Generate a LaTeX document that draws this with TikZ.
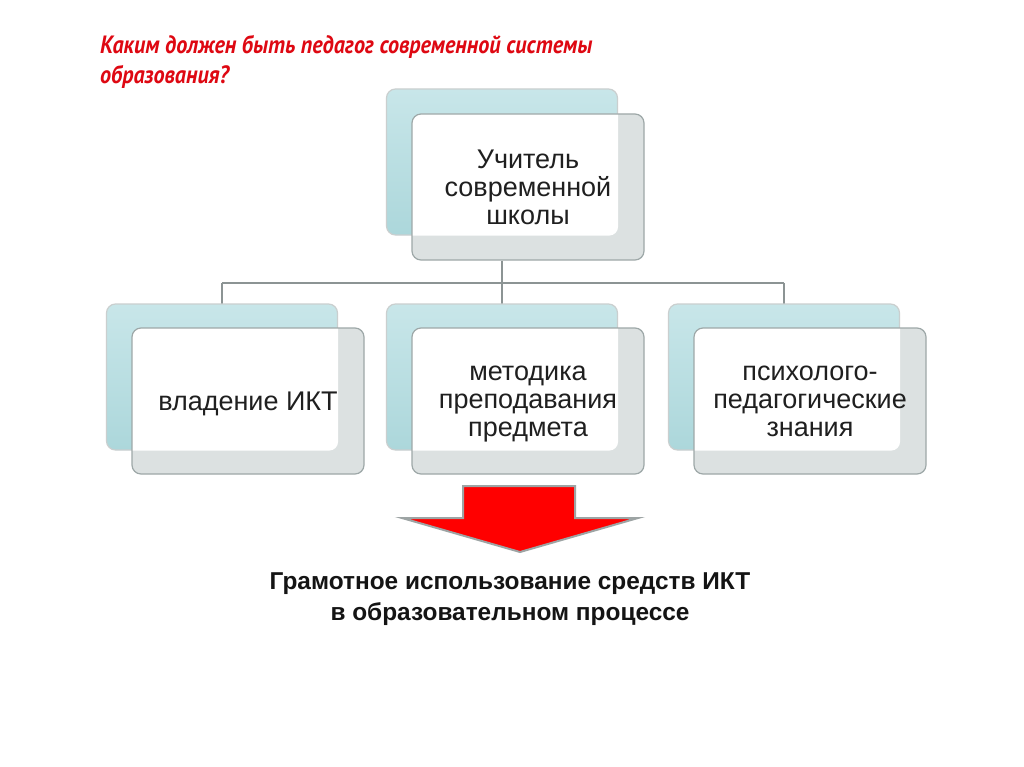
\documentclass[tikz,border=0pt]{standalone}
\usepackage{fontspec}
\setmainfont{Liberation Sans}
\newfontfamily\titlefont{PT Sans}
\definecolor{titlered}{RGB}{222,8,18}
\definecolor{tealtop}{RGB}{200,230,233}
\definecolor{tealbot}{RGB}{172,215,219}
\definecolor{frontgrey}{RGB}{220,225,225}
\definecolor{edgegrey}{RGB}{158,168,168}
\definecolor{linkgrey}{RGB}{140,148,148}
\begin{document}
\begin{tikzpicture}[x=1pt,y=-1pt,
  backbox/.style={draw=edgegrey!55, line width=1.2pt, rounded corners=9pt,
    top color=tealtop, bottom color=tealbot,
    minimum width=231pt, minimum height=146pt, inner sep=0pt},
  frontbox/.style={draw=edgegrey, line width=1.2pt, rounded corners=9pt,
    fill=frontgrey, minimum width=232pt, minimum height=146pt, inner sep=0pt,
    align=center, text depth=-4pt, text=black!88, font=\fontsize{27}{28}\selectfont},
  link/.style={draw=linkgrey, line width=2pt}]
\fill[white] (0,0) rectangle (1024,767);
\useasboundingbox (0,0) rectangle (1024,767);

% Question
\node[anchor=north west, inner sep=0pt, align=left, text=titlered,
  xscale=0.885, transform shape,
  font=\titlefont\fontsize{25}{30}\selectfont\bfseries\itshape] (question) at (100,35)
  {Каким должен быть педагог современной системы\\образования?};

% Top box
\node[backbox] (b-top) at (502,162) {};
\node[frontbox, path picture={\fill[white, rounded corners=9pt] (b-top.north west) rectangle (b-top.south east);}]
  (f-top) at (528,187) {Учитель\\современной\\школы};

% Connectors
\coordinate (bus) at (502,283);
\draw[link] (b-top.south |- f-top.south) -- (bus);

% Lower boxes
\foreach \n/\x/\t in {lft/222/{владение ИКТ},
                      mid/502/{методика\\преподавания\\предмета},
                      rgt/784/{психолого-\\педагогические\\знания}} {
  \draw[link] (\x,283) -- (\x,305);
  \node[backbox] (b-\n) at (\x,377) {};
  \node[frontbox, path picture={\fill[white, rounded corners=9pt] (b-\n.north west) rectangle (b-\n.south east);}]
    (f-\n) at (\x+26,401) {\t};
}
\draw[link] (b-lft.north |- bus) -- (b-rgt.north |- bus);

% Red arrow
\draw[draw=linkgrey!85, line width=2pt, fill=red, line join=miter]
  (463,486) -- (575,486) -- (575,518) -- (638,518) -- (520,552)
  -- (402,518) -- (463,518) -- cycle;

% Conclusion
\node[align=center, inner sep=0pt, text=black!92,
  font=\fontsize{24.4}{31}\selectfont\bfseries] (result) at (510,599)
  {Грамотное использование средств ИКТ\\в образовательном процессе};
\end{tikzpicture}
\end{document}
